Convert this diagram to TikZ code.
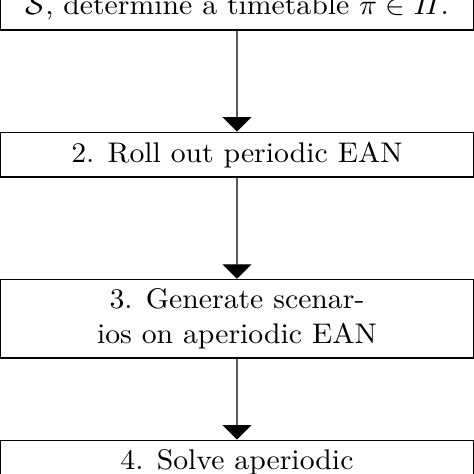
\documentclass[tikz,border=0pt]{standalone}
\usepackage{amsmath}
\usepackage{tikz}
\usetikzlibrary{arrows.meta,positioning}

\begin{document}
\begin{tikzpicture}[
    xscale=1.047, transform shape,
    node distance=1.25cm,
    % one box per step of the procedure
    stepbox/.style={draw, line width=0.5pt, rectangle, minimum width=5.6cm,
      align=center},
    flow/.style={line width=0.5pt, -{Triangle[width=10.2pt,length=5.1pt]}},
  ]
  \useasboundingbox (-79.7pt,-112.45pt) rectangle (79.7pt,54.45pt);

  \node[stepbox] (rollout) at (0,0) {2. Roll out periodic EAN};
  \node[stepbox, above=of rollout] (timetab)
    {$\mathcal{S}$, determine a timetable $\pi \in \varPi$.};
  \node[stepbox, below=of rollout] (scen)
    {3. Generate scenar-\\ios on aperiodic EAN};
  \node[stepbox, below=1cm of scen] (solve) {4. Solve aperiodic};

  \draw[flow] (timetab) -- (rollout);
  \draw[flow] (rollout) -- (scen);
  \draw[flow] (scen) -- (solve);
\end{tikzpicture}
\end{document}
